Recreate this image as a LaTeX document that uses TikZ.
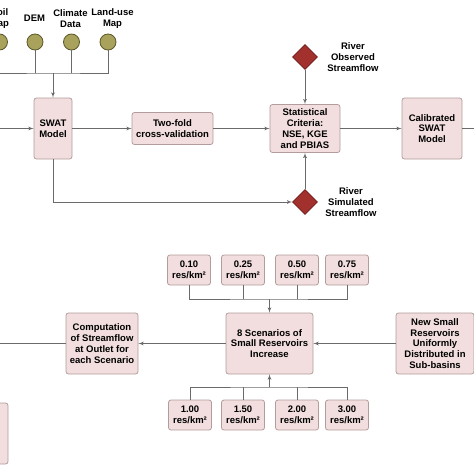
\documentclass[tikz,border=0pt]{standalone}
\usepackage{fontspec}
\setsansfont{Liberation Sans}
\usetikzlibrary{arrows,shapes,positioning,calc}
\definecolor{boxfill}{HTML}{F2DEDE}
\definecolor{boxline}{HTML}{B39C9C}
\definecolor{linegrey}{HTML}{6A6A6A}
\definecolor{olivefill}{HTML}{A8A25C}
\definecolor{olivedark}{HTML}{5C5828}
\definecolor{gaugefill}{HTML}{A2312D}
\definecolor{gaugedark}{HTML}{6E1A1A}
\tikzstyle{every node}=[font=\sffamily\bfseries\fontsize{9.5}{10.8}\selectfont, align=center]
\tikzstyle{block} = [draw=boxline, fill=boxfill, line width=0.8pt, rounded corners=2.5pt, inner sep=1pt]
\tikzstyle{inputdot} = [circle, draw=olivedark, fill=olivefill, line width=0.8pt, minimum size=16pt, inner sep=0pt]
\tikzstyle{gauge} = [diamond, draw=gaugedark, fill=gaugefill, line width=0.6pt, minimum width=25pt, minimum height=25pt, inner sep=0pt]
\tikzstyle{line} = [draw=linegrey, line width=0.8pt, -latex']
\tikzstyle{wire} = [draw=linegrey, line width=0.8pt]

\begin{document}
\begin{tikzpicture}[x=1pt,y=-1pt]
    \useasboundingbox (0,0) rectangle (474,474);
    \clip (0,0) rectangle (474,474);

    % input data
    \node[inputdot] (soil) at (-0.5,42) {};
    \node[inputdot] (dem) at (35,42) {};
    \node[inputdot] (climate) at (71.5,42) {};
    \node[inputdot] (landuse) at (108,42) {};
    \node (soillbl) at (-0.5,18.5) {Soil\\Map};
    \node (demlbl) at (34.5,18.5) {DEM};
    \node (climatelbl) at (70.5,18.5) {Climate\\Data};
    \node (landuselbl) at (112.5,18.5) {Land-use\\Map};
    \coordinate (join) at (53,73);

    % calibration
    \node[block, minimum width=38pt, minimum height=61pt] (swat) at (53,128.5) {SWAT\\Model};
    \node[block, minimum width=81pt, minimum height=32pt] (twofold) at (172.5,128.5) {Two-fold\\cross-validation};
    \node[block, minimum width=70pt, minimum height=48pt] (stat) at (305,128.5) {Statistical\\Criteria:\\NSE, KGE\\and PBIAS};
    \node[block, minimum width=60pt, minimum height=61pt] (calib) at (432,128.5) {Calibrated\\SWAT\\Model};
    \node[gauge] (obs) at (305,57) {};
    \node[gauge] (sim) at (305,202) {};
    \node[right=6pt of obs] (obslbl) {River\\Observed\\Streamflow};
    \node[right=4pt of sim] (simlbl) {River\\Simulated\\Streamflow};
    \coordinate (leftin) at (-5,128.5);
    \coordinate (rightout) at (480,128.5);

    \draw[wire] (soil.south) |- (join) -| (landuse.south);
    \draw[wire] (dem.south) -- (dem |- join);
    \draw[wire] (climate.south) -- (climate |- join);
    \draw[line] (join) -- (swat);
    \draw[line] (leftin) -- (swat);
    \draw[line] (swat) -- (twofold);
    \draw[line] (twofold) -- (stat);
    \draw[line] (stat) -- (calib);
    \draw[wire] (calib) -- (rightout);
    \draw[line] (obs) -- (stat);
    \draw[line] (sim) -- (stat);
    \draw[line] (swat.south) |- (sim);

    % reservoir scenarios
    \node[block, minimum width=72pt, minimum height=61pt] (comp) at (102,343.5) {Computation\\of Streamflow\\at Outlet for\\each Scenario};
    \node[block, minimum width=87pt, minimum height=61pt] (scen) at (269.5,343.5) {8 Scenarios of\\Small Reservoirs\\Increase};
    \node[block, minimum width=78pt, minimum height=61pt] (newres) at (435,343.5) {New Small\\Reservoirs\\Uniformly\\Distributed in\\Sub-basins};
    \node[block, minimum width=60pt, minimum height=61pt] (nextstep) at (-22,433.5) {};

    \node[block, minimum width=43pt, minimum height=30pt] (r010) at (189,270) {0.10\\res/km²};
    \node[block, minimum width=43pt, minimum height=30pt] (r025) at (243,270) {0.25\\res/km²};
    \node[block, minimum width=43pt, minimum height=30pt] (r050) at (297,270) {0.50\\res/km²};
    \node[block, minimum width=43pt, minimum height=30pt] (r075) at (347,270) {0.75\\res/km²};
    \node[block, minimum width=43pt, minimum height=30pt] (r100) at (190,415) {1.00\\res/km²};
    \node[block, minimum width=43pt, minimum height=30pt] (r150) at (243,415) {1.50\\res/km²};
    \node[block, minimum width=43pt, minimum height=30pt] (r200) at (297,415) {2.00\\res/km²};
    \node[block, minimum width=43pt, minimum height=30pt] (r300) at (347,415) {3.00\\res/km²};
    \coordinate (topjoin) at (269.5,299);
    \coordinate (botjoin) at (269.5,387);
    \coordinate (leftout) at (-5,343.5);

    \draw[wire] (r010.south) |- (topjoin) -| (r075.south);
    \draw[wire] (r025.south) -- (r025 |- topjoin);
    \draw[wire] (r050.south) -- (r050 |- topjoin);
    \draw[line] (topjoin) -- (scen);
    \draw[wire] (r100.north) |- (botjoin) -| (r300.north);
    \draw[wire] (r150.north) -- (r150 |- botjoin);
    \draw[wire] (r200.north) -- (r200 |- botjoin);
    \draw[line] (botjoin) -- (scen);
    \draw[line] (newres) -- (scen);
    \draw[line] (scen) -- (comp);
    \draw[wire] (comp) -- (leftout);
\end{tikzpicture}
\end{document}
